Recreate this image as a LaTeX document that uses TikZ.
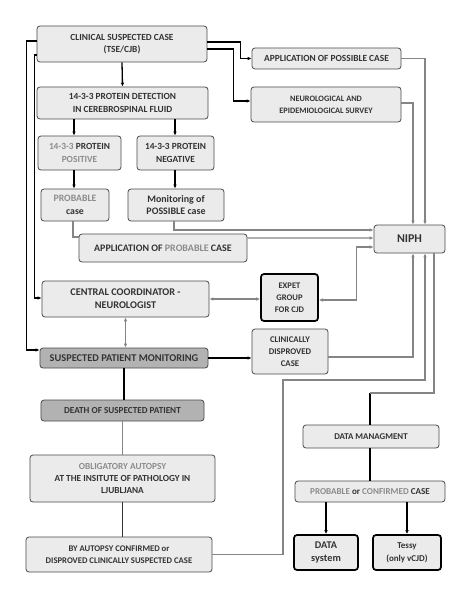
\documentclass[tikz,border=0pt]{standalone}
\usepackage{fontspec}
\setmainfont{Carlito}
\usetikzlibrary{arrows.meta,calc}
\definecolor{boxfill}{HTML}{EBEBEB}
\definecolor{darkfill}{HTML}{B2B2B2}
\definecolor{boxdraw}{HTML}{4A4A4A}
\definecolor{grayline}{HTML}{858585}
\definecolor{txt}{HTML}{333333}
\definecolor{gtxt}{HTML}{8C8C8C}
\begin{document}
\begin{tikzpicture}[x=1bp,y=-1bp,
  box/.style={draw=boxdraw,fill=boxfill,rounded corners=3bp,line width=0.8bp,inner sep=1bp,align=center,text=txt,font=\fontsize{9.4}{12.5}\selectfont\bfseries},
  darkbox/.style={box,fill=darkfill},
  heavybox/.style={box,draw=black,line width=1.7bp},
  bl/.style={line width=1.3bp,draw=black},
  gl/.style={line width=1.1bp,draw=grayline},
  tip/.style={-{Latex[length=4bp,width=3.6bp]}},
  tips/.style={{Latex[length=4bp,width=3.6bp]}-{Latex[length=4bp,width=3.6bp]}},
  sz/.style 2 args={font=\fontsize{#1}{#2}\selectfont\bfseries}
]
\useasboundingbox (0,0) rectangle (474,610);
\fill[white] (0,0) rectangle (474,610);

% nodes
\node[box,minimum width=170bp,minimum height=36bp] (csc) at (122,44) {CLINICAL SUSPECTED CASE\\(TSE/CJB)};
\node[box,minimum width=171bp,minimum height=32bp] (det) at (122.5,103) {14-3-3 PROTEIN DETECTION\\IN CEREBROSPINAL FLUID};
\node[box,minimum width=83bp,minimum height=34bp] (pos) at (79.5,153) {{\color{gtxt}14-3-3} PROTEIN\\{\color{gtxt}POSITIVE}};
\node[box,minimum width=77bp,minimum height=34bp] (neg) at (175.5,153) {14-3-3 PROTEIN\\NEGATIVE};
\node[box,minimum width=68bp,minimum height=32bp,sz={9.8}{12.5}] (prob) at (75,205) {{\color{gtxt}PROBABLE}\\case};
\node[box,minimum width=96bp,minimum height=32bp,sz={10}{12.5}] (mon) at (176,205) {Monitoring of\\POSSIBLE case};
\node[box,minimum width=168bp,minimum height=28bp,sz={10}{12.5}] (appprob) at (163,248) {APPLICATION OF {\color{gtxt}PROBABLE} CASE};
\node[box,minimum width=149bp,minimum height=21bp] (apposs) at (326.5,58.5) {APPLICATION OF POSSIBLE CASE};
\node[box,minimum width=150bp,minimum height=35bp,sz={8.3}{12}] (neuro) at (326,104.5) {NEUROLOGICAL AND\\EPIDEMIOLOGICAL SURVEY};
\node[box,minimum width=71bp,minimum height=28bp,sz={12}{14}] (niph) at (409.5,239) {NIPH};
\node[box,minimum width=167bp,minimum height=36bp,sz={10.3}{13}] (cc) at (125.5,299) {CENTRAL COORDINATOR -\\NEUROLOGIST};
\node[heavybox,minimum width=57bp,minimum height=47bp,sz={8.6}{12}] (expet) at (289.5,297.5) {EXPET\\GROUP\\FOR CJD};
\node[darkbox,minimum width=168bp,minimum height=20bp,sz={10.4}{12}] (spm) at (124,358) {SUSPECTED PATIENT MONITORING};
\node[box,minimum width=76bp,minimum height=45bp,sz={8.8}{12}] (cd) at (290,351.5) {CLINICALLY\\DISPROVED\\CASE};
\node[darkbox,minimum width=163bp,minimum height=21bp,sz={9.2}{12}] (death) at (122.5,410.5) {DEATH OF SUSPECTED PATIENT};
\node[box,minimum width=185bp,minimum height=47bp,sz={9.3}{12.5}] (aut) at (122.5,478.5) {{\color{gtxt}OBLIGATORY AUTOPSY}\\AT THE INSITUTE OF PATHOLOGY IN\\LJUBLJANA};
\node[box,minimum width=186bp,minimum height=35bp,sz={8.7}{12.5}] (conf) at (119,554.5) {BY AUTOPSY CONFIRMED or\\DISPROVED CLINICALLY SUSPECTED CASE};
\node[box,minimum width=136bp,minimum height=23bp,sz={8.9}{12}] (dm) at (371,436.5) {DATA MANAGMENT};
\node[box,minimum width=150bp,minimum height=21bp,sz={9.1}{12}] (poc) at (370,491.5) {{\color{gtxt}PROBABLE} or {\color{gtxt}CONFIRMED} CASE};
\node[heavybox,minimum width=64bp,minimum height=35bp,sz={10.3}{13}] (ds) at (326,552.5) {DATA\\system};
\node[heavybox,minimum width=68bp,minimum height=35bp,sz={9}{13}] (tessy) at (407,552.5) {Tessy\\(only vCJD)};

% helper coordinates
\coordinate (xp) at (74,0);
\coordinate (xn) at (175,0);
\coordinate (c380) at (283,380);
\coordinate (d393) at (370,393);

% black connectors
\draw[bl,tip] (csc.south) -- (det.north);
\draw[bl,tip] (det.south -| xp) -- (pos.north -| xp);
\draw[bl,tip] (det.south -| xn) -- (neg.north -| xn);
\draw[bl,tip] (pos.south -| xp) -- (prob.north -| xp);
\draw[bl,tip] (neg.south -| xn) -- (mon.north -| xn);
\draw[bl,tip] ([yshift=3bp]csc.west) -- ++(-10,0) |- ([yshift=8bp]spm.west);
\draw[bl,tip] ([yshift=-11bp]csc.west) -- ++(-2,0) |- ([yshift=1bp]cc.west);
\draw[bl,tip] ([yshift=2bp]csc.east) -- ++(33,0) |- (apposs.west);
\draw[bl,tip] ([yshift=-5bp]csc.east) -- ++(26,0) |- ([yshift=3.5bp]neuro.west);
\draw[bl,tip] (spm.east) -- (cd.west |- spm.east);
\draw[bl] (spm.south) -- (death.north -| spm.south);
\draw[line width=1.2bp,draw=txt] (aut.south) -- (conf.north -| aut.south);
\draw[line width=2.6bp] (d393) -- (dm.north -| d393);
\draw[line width=1.8bp] (dm.south -| d393) -- (poc.north -| d393);
\draw[line width=1.8bp,tip] (poc.south -| ds.north) -- (ds.north);
\draw[line width=1.8bp,tip] (poc.south -| tessy.north) -- (tessy.north);

% gray connectors
\draw[gl] ([xshift=-2bp]prob.south) |- ([yshift=11bp]appprob.west);
\draw[gl,tip] ([xshift=-2bp]mon.south) |- ([yshift=9bp]niph.west);
\draw[gl,tip] ([yshift=10bp]appprob.east) -- ([yshift=1bp]niph.west);
\draw[gl,tips] ([yshift=-2.5bp]expet.east) -- ++(38,0) |- ([yshift=-8bp]niph.west);
\draw[gl,tips] (cc.east) -- (expet.west |- cc.east);
\draw[gl,tips] (cc.south) -- (spm.north -| cc.south);
\draw[gl,tip] (apposs.east) -| ([xshift=15.5bp]niph.north);
\draw[gl,tip] ([yshift=1.5bp]neuro.east) -| ([xshift=3.5bp]niph.north);
\draw[gl,tip] ([yshift=-5.5bp]cd.east) -| ([xshift=3.5bp]niph.south);
\draw[gl,tip] (conf.east) -| (c380) -| ([xshift=15.5bp]niph.south);
\draw[gl] ([xshift=24.5bp]niph.south) |- (d393);
\draw[gl] (death.south) -- (aut.north -| death.south);
\end{tikzpicture}
\end{document}
